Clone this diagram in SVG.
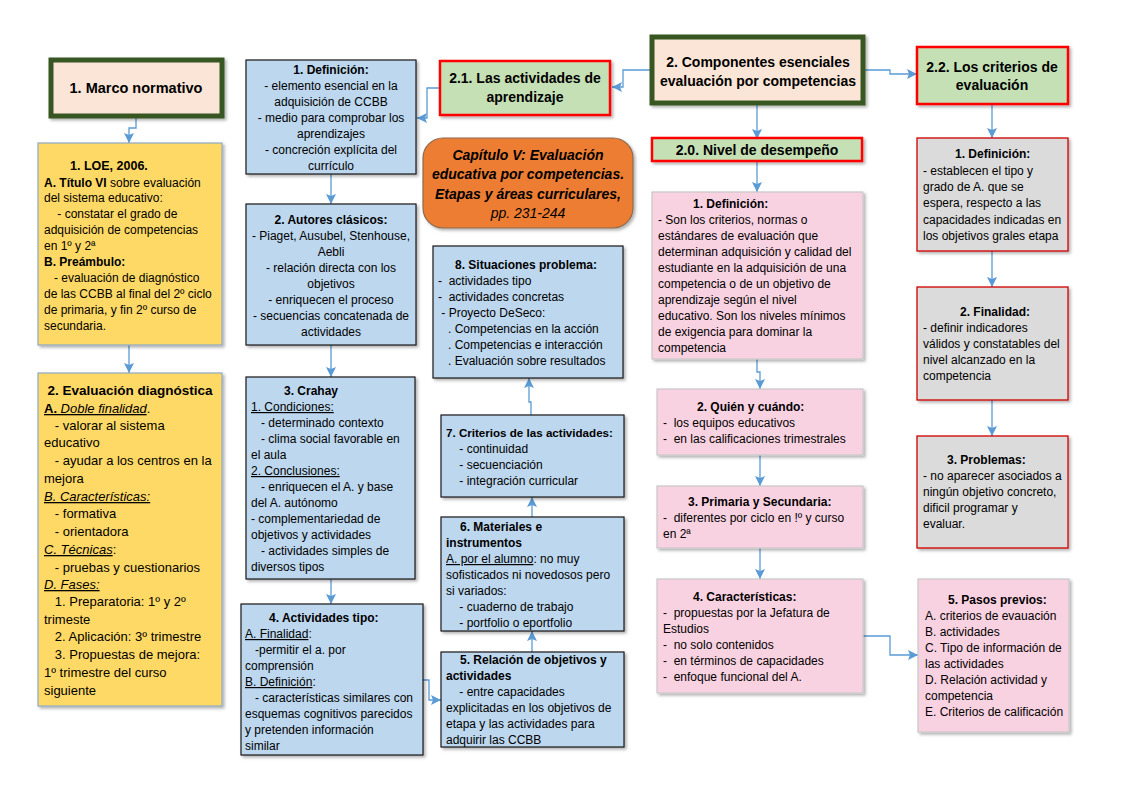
<svg xmlns="http://www.w3.org/2000/svg" width="1122" height="793" viewBox="0 0 1122 793">
<defs>
<filter id="sh" x="-10%" y="-10%" width="130%" height="130%">
<feDropShadow dx="2" dy="2" stdDeviation="1.5" flood-color="#000" flood-opacity="0.3"/>
</filter>
<marker id="ar" viewBox="0 0 10 10" refX="10" refY="5" markerWidth="10" markerHeight="10" markerUnits="userSpaceOnUse" orient="auto">
<path d="M0,0 L10,5 L0,10 L2,5 z" fill="#5B9BD5"/>
</marker>
<style>
text{font-family:"Liberation Sans",Arial,sans-serif;font-size:12px;fill:#000;white-space:pre}
.b{font-weight:bold}
.i{font-style:italic}
.u{text-decoration:underline}
.c{text-anchor:middle}
.big{font-size:13px}
.h{font-size:14px;font-weight:bold}
.main{fill:#FBE5D6;stroke:#375623;stroke-width:5}
.green{fill:#C5E0B4;stroke:#FF0000;stroke-width:2.5}
.yel{fill:#FFD966;stroke:#8EA9C1;stroke-width:1.2}
.blue{fill:#BDD7EE;stroke:#1a1a1a;stroke-width:1.2}
.pink{fill:#F9D2E1;stroke:#C8C8C8;stroke-width:1.2}
.grey{fill:#DBDBDB;stroke:#D00000;stroke-width:1.3}
.orange{fill:#ED7D31;stroke:#8a6a50;stroke-width:1.2}
.con{fill:none;stroke:#5B9BD5;stroke-width:1.3;marker-end:url(#ar)}
</style>
</defs>
<rect width="1122" height="793" fill="#fff"/>

<g id="connectors">
<path class="con" d="M136,118 V128 H129 V143"/>
<path class="con" d="M129,345 V373"/>
<path class="con" d="M440,88 H427 V118 H417"/>
<path class="con" d="M653,70 H623 V87 H612"/>
<path class="con" d="M331,174 V204"/>
<path class="con" d="M331,345 V377"/>
<path class="con" d="M331,579 V604"/>
<path class="con" d="M423,680 H429 V700 H441"/>
<path class="con" d="M532,652 V631"/>
<path class="con" d="M532,517 V497"/>
<path class="con" d="M531,415 V402 H529 V378"/>
<path class="con" d="M865,70 H890 V74 H917"/>
<path class="con" d="M757,105 V139"/>
<path class="con" d="M757,161 V192"/>
<path class="con" d="M757,359 V372 H760 V389"/>
<path class="con" d="M760,455 V486"/>
<path class="con" d="M760,548 V579"/>
<path class="con" d="M863,636 H890 V655 H918"/>
<path class="con" d="M992,104 V138"/>
<path class="con" d="M992,251 V287"/>
<path class="con" d="M992,400 V436"/>
</g>

<g id="marco">
<rect class="main" x="51" y="60" width="171" height="56" filter="url(#sh)"/>
<text class="h c" x="136" y="93" style="font-size:14.5px">1. Marco normativo</text>
</g>

<g id="loe">
<rect class="yel" x="38" y="143" width="184" height="202" filter="url(#sh)"/>
<text class="b" x="70" y="170" style="font-size:12.5px">1. LOE, 2006.</text>
<text x="44" y="187"><tspan class="b">A. Título VI</tspan> sobre evaluación</text>
<text x="44" y="202">del sistema educativo:</text>
<text x="44" y="218" xml:space="preserve">    - constatar el grado de</text>
<text x="44" y="234">adquisición de competencias</text>
<text x="44" y="250">en 1º y 2ª</text>
<text class="b" x="44" y="266">B. Preámbulo:</text>
<text x="44" y="282" xml:space="preserve">   - evaluación de diagnóstico</text>
<text x="44" y="298">de las CCBB al final del 2º ciclo</text>
<text x="44" y="314">de primaria, y fin 2º curso de</text>
<text x="44" y="330">secundaria.</text>
</g>

<g id="evaldiag">
<rect class="yel" x="38" y="373" width="184" height="333" filter="url(#sh)"/>
<text class="b c" x="130" y="395" style="font-size:13.5px">2. Evaluación diagnóstica</text>
<text class="big" x="44" y="413"><tspan class="b u">A.</tspan><tspan class="i u"> Doble finalidad</tspan>.</text>
<text class="big" x="44" y="430" xml:space="preserve">   - valorar al sistema</text>
<text class="big" x="44" y="447">educativo</text>
<text class="big" x="44" y="465" xml:space="preserve">   - ayudar a los centros en la</text>
<text class="big" x="44" y="483">mejora</text>
<text class="big i u" x="44" y="501">B. Características:</text>
<text class="big" x="44" y="518" xml:space="preserve">   - formativa</text>
<text class="big" x="44" y="536" xml:space="preserve">   - orientadora</text>
<text class="big" x="44" y="554"><tspan class="i u">C. Técnicas</tspan>:</text>
<text class="big" x="44" y="572" xml:space="preserve">   - pruebas y cuestionarios</text>
<text class="big i u" x="44" y="589">D. Fases:</text>
<text class="big" x="44" y="606" xml:space="preserve">   1. Preparatoria: 1º y 2º</text>
<text class="big" x="44" y="624">trimeste</text>
<text class="big" x="44" y="641" xml:space="preserve">   2. Aplicación: 3º trimestre</text>
<text class="big" x="44" y="659" xml:space="preserve">   3. Propuestas de mejora:</text>
<text class="big" x="44" y="677">1º trimestre del curso</text>
<text class="big" x="44" y="695">siguiente</text>
</g>

<g id="def1">
<rect class="blue" x="246" y="60" width="170" height="114" filter="url(#sh)"/>
<text class="b c" x="331" y="74">1. Definición:</text>
<text class="c" x="331" y="90">- elemento esencial en la</text>
<text class="c" x="331" y="106">adquisición de CCBB</text>
<text class="c" x="331" y="122">- medio para comprobar los</text>
<text class="c" x="331" y="138">aprendizajes</text>
<text class="c" x="331" y="154">- concreción explícita del</text>
<text class="c" x="331" y="170">currículo</text>
</g>

<g id="autores">
<rect class="blue" x="246" y="204" width="170" height="141" filter="url(#sh)"/>
<text class="b c" x="331" y="224">2. Autores clásicos:</text>
<text class="c" x="331" y="240">- Piaget, Ausubel, Stenhouse,</text>
<text class="c" x="331" y="256">Aebli</text>
<text class="c" x="331" y="272">- relación directa con los</text>
<text class="c" x="331" y="288">objetivos</text>
<text class="c" x="331" y="304">- enriquecen el proceso</text>
<text class="c" x="331" y="320">- secuencias concatenada de</text>
<text class="c" x="331" y="336">actividades</text>
</g>

<g id="crahay">
<rect class="blue" x="246" y="377" width="169" height="202" filter="url(#sh)"/>
<text class="b" x="284" y="395">3. Crahay</text>
<text class="u" x="251" y="411">1. Condiciones:</text>
<text x="251" y="427" xml:space="preserve">   - determinado contexto</text>
<text x="251" y="443" xml:space="preserve">   - clima social favorable en</text>
<text x="251" y="459">el aula</text>
<text class="u" x="251" y="475">2. Conclusiones:</text>
<text x="251" y="491" xml:space="preserve">   - enriquecen el A. y base</text>
<text x="251" y="507">del A. autónomo</text>
<text x="251" y="523">- complementariedad de</text>
<text x="251" y="539">objetivos y actividades</text>
<text x="251" y="555" xml:space="preserve">   - actividades simples de</text>
<text x="251" y="571">diversos tipos</text>
</g>

<g id="acttipo">
<rect class="blue" x="241" y="604" width="182" height="151" filter="url(#sh)"/>
<text class="b" x="269" y="622">4. Actividades tipo:</text>
<text x="245" y="638"><tspan class="u">A. Finalidad</tspan>:</text>
<text x="245" y="654" xml:space="preserve">   -permitir el a. por</text>
<text x="245" y="670">comprensión</text>
<text x="245" y="686"><tspan class="u">B. Definición</tspan>:</text>
<text x="245" y="702" xml:space="preserve">   - características similares con</text>
<text x="245" y="718">esquemas cognitivos parecidos</text>
<text x="245" y="734">y pretenden información</text>
<text x="245" y="750">similar</text>
</g>

<g id="actividades">
<rect class="green" x="440" y="61" width="170" height="54" filter="url(#sh)"/>
<text class="h c" x="525" y="83">2.1. Las actividades de</text>
<text class="h c" x="525" y="102">aprendizaje</text>
</g>

<g id="capitulo">
<rect class="orange" x="423" y="138" width="210" height="90" rx="20" ry="20" filter="url(#sh)"/>
<text class="b i c" x="528" y="160" style="font-size:14px">Capítulo V: Evaluación</text>
<text class="b i c" x="528" y="179" style="font-size:14px">educativa por competencias.</text>
<text class="b i c" x="528" y="199" style="font-size:14px">Etapas y áreas curriculares,</text>
<text class="i c" x="528" y="218" style="font-size:14px">pp. 231-244</text>
</g>

<g id="situaciones">
<rect class="blue" x="433" y="246" width="190" height="132" filter="url(#sh)"/>
<text class="b" x="455" y="269">8. Situaciones problema:</text>
<text x="438" y="285" xml:space="preserve">-  actividades tipo</text>
<text x="438" y="301" xml:space="preserve">-  actividades concretas</text>
<text x="438" y="317" xml:space="preserve"> - Proyecto DeSeco:</text>
<text x="438" y="333" xml:space="preserve">   . Competencias en la acción</text>
<text x="438" y="349" xml:space="preserve">   . Competencias e interacción</text>
<text x="438" y="365" xml:space="preserve">   . Evaluación sobre resultados</text>
</g>

<g id="criterios-act">
<rect class="blue" x="441" y="415" width="183" height="82" filter="url(#sh)"/>
<text class="b" x="446" y="437" style="font-size:11.6px">7. Criterios de las actividades:</text>
<text x="446" y="453" xml:space="preserve">    - continuidad</text>
<text x="446" y="469" xml:space="preserve">    - secuenciación</text>
<text x="446" y="485" xml:space="preserve">    - integración curricular</text>
</g>

<g id="materiales">
<rect class="blue" x="441" y="517" width="183" height="114" filter="url(#sh)"/>
<text class="b" x="460" y="531">6. Materiales e</text>
<text class="b" x="446" y="547">instrumentos</text>
<text x="446" y="563"><tspan class="u">A. por el alumno</tspan>: no muy</text>
<text x="446" y="579">sofisticados ni novedosos pero</text>
<text x="446" y="595">si variados:</text>
<text x="446" y="611" xml:space="preserve">    - cuaderno de trabajo</text>
<text x="446" y="627" xml:space="preserve">    - portfolio o eportfolio</text>
</g>

<g id="relacion">
<rect class="blue" x="441" y="652" width="183" height="95" filter="url(#sh)"/>
<text class="b" x="460" y="664">5. Relación de objetivos y</text>
<text class="b" x="446" y="680">actividades</text>
<text x="446" y="696" xml:space="preserve">    - entre capacidades</text>
<text x="446" y="712">explicitadas en los objetivos de</text>
<text x="446" y="728">etapa y las actividades para</text>
<text x="446" y="744">adquirir las CCBB</text>
</g>

<g id="componentes">
<rect class="main" x="652" y="37" width="211" height="66" filter="url(#sh)"/>
<text class="h c" x="758" y="67">2. Componentes esenciales</text>
<text class="h c" x="758" y="86">evaluación por competencias</text>
</g>

<g id="nivel">
<rect class="green" x="652" y="138" width="210" height="23" filter="url(#sh)"/>
<text class="h c" x="757" y="155">2.0. Nivel de desempeño</text>
</g>

<g id="nivel-def">
<rect class="pink" x="652" y="192" width="211" height="167" filter="url(#sh)"/>
<text class="b" x="693" y="208">1. Definición:</text>
<text x="658" y="224">- Son los criterios, normas o</text>
<text x="658" y="240">estándares de evaluación que</text>
<text x="658" y="256">determinan adquisición y calidad del</text>
<text x="658" y="272">estudiante en la adquisición de una</text>
<text x="658" y="288">competencia o de un objetivo de</text>
<text x="658" y="304">aprendizaje según el nivel</text>
<text x="658" y="320">educativo. Son los niveles mínimos</text>
<text x="658" y="336">de exigencia para dominar la</text>
<text x="658" y="352">competencia</text>
</g>

<g id="quien">
<rect class="pink" x="657" y="389" width="206" height="66" filter="url(#sh)"/>
<text class="b" x="697" y="411">2. Quién y cuándo:</text>
<text x="663" y="427" xml:space="preserve">-  los equipos educativos</text>
<text x="663" y="443" xml:space="preserve">-  en las calificaciones trimestrales</text>
</g>

<g id="primaria">
<rect class="pink" x="657" y="486" width="206" height="62" filter="url(#sh)"/>
<text class="b" x="688" y="506">3. Primaria y Secundaria:</text>
<text x="663" y="522" xml:space="preserve">-  diferentes por ciclo en !º y curso</text>
<text x="663" y="538">en 2ª</text>
</g>

<g id="caracteristicas">
<rect class="pink" x="657" y="579" width="206" height="114" filter="url(#sh)"/>
<text class="b" x="693" y="601">4. Características:</text>
<text x="663" y="617" xml:space="preserve">-  propuestas por la Jefatura de</text>
<text x="663" y="633">Estudios</text>
<text x="663" y="649" xml:space="preserve">-  no solo contenidos</text>
<text x="663" y="665" xml:space="preserve">-  en términos de capacidades</text>
<text x="663" y="681" xml:space="preserve">-  enfoque funcional del A.</text>
</g>

<g id="criterios-eval">
<rect class="green" x="917" y="47" width="151" height="57" filter="url(#sh)"/>
<text class="h c" x="992" y="72">2.2. Los criterios de</text>
<text class="h c" x="992" y="90">evaluación</text>
</g>

<g id="crit-def">
<rect class="grey" x="917" y="138" width="151" height="113" filter="url(#sh)"/>
<text class="b" x="955" y="158">1. Definición:</text>
<text x="923" y="175">- establecen el tipo y</text>
<text x="923" y="191">grado de A. que se</text>
<text x="923" y="207">espera, respecto a las</text>
<text x="923" y="224">capacidades indicadas en</text>
<text x="923" y="240">los objetivos grales etapa</text>
</g>

<g id="finalidad">
<rect class="grey" x="917" y="287" width="151" height="113" filter="url(#sh)"/>
<text class="b" x="960" y="316">2. Finalidad:</text>
<text x="923" y="332">- definir indicadores</text>
<text x="923" y="348">válidos y constatables del</text>
<text x="923" y="364">nivel alcanzado en la</text>
<text x="923" y="380">competencia</text>
</g>

<g id="problemas">
<rect class="grey" x="917" y="436" width="151" height="112" filter="url(#sh)"/>
<text class="b" x="947" y="464">3. Problemas:</text>
<text x="923" y="480">- no aparecer asociados a</text>
<text x="923" y="496">ningún objetivo concreto,</text>
<text x="923" y="512">dificil programar y</text>
<text x="923" y="528">evaluar.</text>
</g>

<g id="pasos">
<rect class="pink" x="918" y="579" width="151" height="153" filter="url(#sh)"/>
<text class="b" x="948" y="604">5. Pasos previos:</text>
<text x="925" y="620">A. criterios de evauación</text>
<text x="925" y="636">B. actividades</text>
<text x="925" y="652">C. Tipo de información de</text>
<text x="925" y="668">las actividades</text>
<text x="925" y="684">D. Relación actividad y</text>
<text x="925" y="700">competencia</text>
<text x="925" y="716">E. Criterios de calificación</text>
</g>
</svg>
